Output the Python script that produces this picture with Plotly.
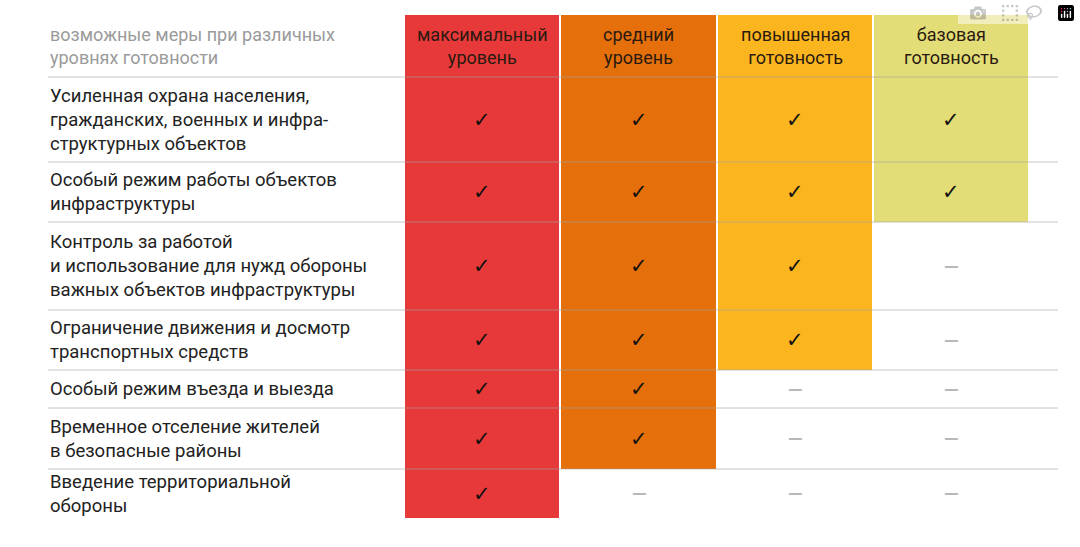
import plotly.graph_objects as go

header_left = "возможные меры при различных<br>уровнях готовности"
levels = ["максимальный<br>уровень", "средний<br>уровень", "повышенная<br>готовность", "базовая<br>готовность"]
level_colors = ["#E8393A", "#E5700B", "#FBB51F", "#E2DD76"]
measures = [
    "Усиленная охрана населения,<br>гражданских, военных и инфра-<br>структурных объектов",
    "Особый режим работы объектов<br>инфраструктуры",
    "Контроль за работой<br>и использование для нужд обороны<br>важных объектов инфраструктуры",
    "Ограничение движения и досмотр<br>транспортных средств",
    "Особый режим въезда и выезда",
    "Временное отселение жителей<br>в безопасные районы",
    "Введение территориальной<br>обороны",
]
# number of levels (from maximal) at which each measure applies
applies_count = [4, 4, 3, 3, 2, 2, 1]

# layout geometry (pixels)
row_edges = [15, 77, 162, 222, 310, 370, 408, 469, 518]
col_edges = [405, 561, 718, 874, 1030]
gap = 2

fig = go.Figure()
fig.add_trace(go.Scatter(x=[0, 1080], y=[0, 547], mode="markers", marker=dict(opacity=0), hoverinfo="skip"))
shapes, ann = [], []
font = "Roboto, Noto Sans, sans-serif"

for j, c in enumerate(level_colors):
    last_row = max(i for i, n in enumerate(applies_count) if n > j) + 1
    shapes.append(dict(type="rect", x0=col_edges[j], x1=col_edges[j + 1] - gap,
                       y0=row_edges[0], y1=row_edges[last_row + 1], fillcolor=c, line_width=0, layer="below"))
    ann.append(dict(x=(col_edges[j] + col_edges[j + 1] - gap) / 2, y=(row_edges[0] + row_edges[1]) / 2,
                    text=levels[j], showarrow=False, font=dict(size=18, color="#2a1a10", family=font)))

ann.append(dict(x=48, y=(row_edges[0] + row_edges[1]) / 2, xanchor="left", align="left", text=header_left,
                showarrow=False, font=dict(size=18, color="#9a9a9a", family=font)))

for i, m in enumerate(measures):
    yc = (row_edges[i + 1] + row_edges[i + 2]) / 2
    ann.append(dict(x=48, y=yc, xanchor="left", align="left", text=m, showarrow=False,
                    font=dict(size=18.5, color="#222222", family=font)))
    for j in range(4):
        xc = (col_edges[j] + col_edges[j + 1] - gap) / 2
        if j < applies_count[i]:
            ann.append(dict(x=xc, y=yc, text="<b>✓</b>", showarrow=False,
                            font=dict(size=21, color="#111", family="DejaVu Sans")))
        else:
            ann.append(dict(x=xc, y=yc, text="<b>—</b>", showarrow=False,
                            font=dict(size=19, color="#b8b8b8", family=font)))
    y = row_edges[i + 1]
    shapes.append(dict(type="line", x0=48, x1=1058, y0=y, y1=y, line=dict(color="rgba(160,160,160,0.6)", width=1)))

fig.update_layout(width=1080, height=547, margin=dict(l=0, r=0, t=0, b=0), plot_bgcolor="white",
                  paper_bgcolor="white", shapes=shapes, annotations=ann, showlegend=False,
                  xaxis=dict(range=[0, 1080], visible=False, fixedrange=True),
                  yaxis=dict(range=[547, 0], visible=False, fixedrange=True))
fig.write_html("out.html", post_script="document.body.style.margin='0';")
